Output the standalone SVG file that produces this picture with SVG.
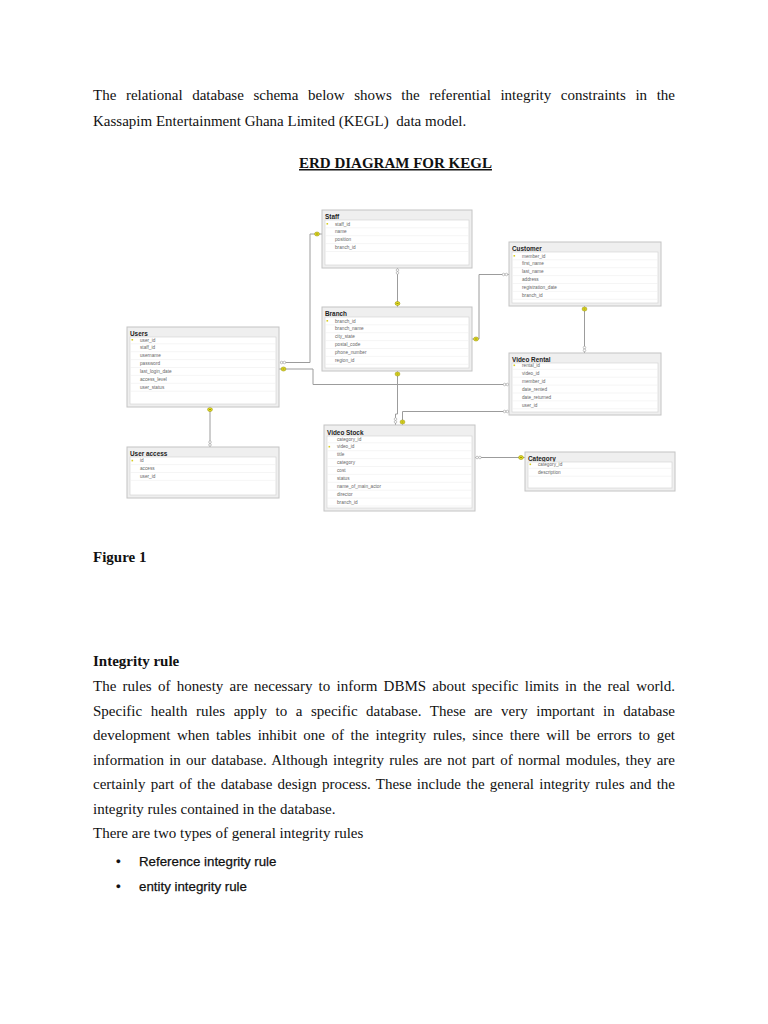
<svg xmlns="http://www.w3.org/2000/svg" xmlns:xlink="http://www.w3.org/1999/xlink" width="768" height="1024" viewBox="0 0 768 1024">
<style>
.doc{font-family:"Liberation Serif","Times New Roman",serif;font-size:15px;fill:#111}
.b{font-weight:bold}
.bul{font-family:"Liberation Sans",Arial,sans-serif;font-size:13.3px;fill:#111;stroke:#111;stroke-width:0.25}
.outer{fill:#efefef;stroke:#c4c4c4;stroke-width:1}
.inner{fill:#ffffff;stroke:#d6d6d6;stroke-width:0.7}
.sep{stroke:#efefef;stroke-width:0.6}
.th{font-family:"Liberation Sans",Arial,sans-serif;font-size:6.4px;font-weight:bold;fill:#222}
.tr{font-family:"Liberation Sans",Arial,sans-serif;font-size:4.7px;fill:#666}
.pk{fill:#d8cc20}
.conn polyline{fill:none;stroke:#9c9c9c;stroke-width:1}
</style>
<defs>
<g id="key"><ellipse cx="0" cy="0" rx="2.4" ry="2" fill="#e4de22" stroke="#9a9410" stroke-width="0.6"/><line x1="-1" y1="0" x2="1" y2="0" stroke="#6e6a00" stroke-width="0.6"/></g>
<g id="mh"><circle cx="-1.4" cy="0" r="1.3" fill="#fff" stroke="#8a8a8a" stroke-width="0.5"/><circle cx="1.4" cy="0" r="1.3" fill="#fff" stroke="#8a8a8a" stroke-width="0.5"/></g>
<g id="mv"><circle cx="0" cy="-1.4" r="1.3" fill="#fff" stroke="#8a8a8a" stroke-width="0.5"/><circle cx="0" cy="1.4" r="1.3" fill="#fff" stroke="#8a8a8a" stroke-width="0.5"/></g>
</defs>
<rect x="0" y="0" width="768" height="1024" fill="#ffffff"/>

<g id="intro">
<text class="doc" x="93" y="100" word-spacing="5.8" textLength="582" lengthAdjust="spacing">The relational database schema below shows the referential integrity constraints in the</text>
<text class="doc" x="93" y="126">Kassapim Entertainment Ghana Limited (KEGL)&#160; data model.</text>
<text class="doc b" x="395.5" y="168" text-anchor="middle" text-decoration="underline">ERD DIAGRAM FOR KEGL</text>
</g>

<g id="connectors" class="conn">
<polyline points="280,362.5 310,362.5 310,234 322,234"/>
<polyline points="397.5,268 397.5,307"/>
<polyline points="472,339 479,339 479,274.5 509,274.5"/>
<polyline points="279,369 313,369 313,384.5 509,384.5"/>
<polyline points="584.5,306 584.5,353"/>
<polyline points="397.5,371 397.5,414 395.5,414 395.5,425"/>
<polyline points="402.5,425 402.5,411.5 509,411.5"/>
<polyline points="475,457.5 525,457.5"/>
<polyline points="210,407 210,447"/>
<use xlink:href="#mh" x="283" y="362.5"/>
<use xlink:href="#key" x="317" y="234"/>
<use xlink:href="#mv" x="397.5" y="271.5"/>
<use xlink:href="#key" x="397.5" y="303.5"/>
<use xlink:href="#key" x="476" y="339"/>
<use xlink:href="#mh" x="505" y="274.5"/>
<use xlink:href="#key" x="283.5" y="369"/>
<use xlink:href="#mh" x="506" y="384.5"/>
<use xlink:href="#key" x="584.5" y="309"/>
<use xlink:href="#mv" x="584.5" y="349"/>
<use xlink:href="#key" x="397.5" y="374"/>
<use xlink:href="#mv" x="395.5" y="420.5"/>
<use xlink:href="#key" x="402.5" y="422"/>
<use xlink:href="#mh" x="506" y="411.5"/>
<use xlink:href="#mh" x="478.5" y="457.5"/>
<use xlink:href="#key" x="521" y="457.5"/>
<use xlink:href="#key" x="210" y="409.5"/>
<use xlink:href="#mv" x="210" y="443.5"/>
</g>

<g id="staff">
<rect class="outer" x="322" y="210" width="150" height="58"/>
<text class="th" x="325" y="219">Staff</text>
<rect class="inner" x="325" y="220" width="144" height="45"/>
<line class="sep" x1="325" y1="227.8" x2="469" y2="227.8"/><line class="sep" x1="325" y1="235.7" x2="469" y2="235.7"/><line class="sep" x1="325" y1="243.6" x2="469" y2="243.6"/><line class="sep" x1="325" y1="251.5" x2="469" y2="251.5"/>
<rect class="pk" x="326.5" y="223" width="1.6" height="1.6"/>
<text class="tr" x="335" y="225.5">staff_id</text>
<text class="tr" x="335" y="233.4">name</text>
<text class="tr" x="335" y="241.3">position</text>
<text class="tr" x="335" y="249.2">branch_id</text>
</g>

<g id="customer">
<rect class="outer" x="509" y="242" width="152" height="64"/>
<text class="th" x="512" y="251">Customer</text>
<rect class="inner" x="512" y="252" width="146" height="51"/>
<line class="sep" x1="512" y1="259.8" x2="658" y2="259.8"/><line class="sep" x1="512" y1="267.7" x2="658" y2="267.7"/><line class="sep" x1="512" y1="275.6" x2="658" y2="275.6"/><line class="sep" x1="512" y1="283.5" x2="658" y2="283.5"/><line class="sep" x1="512" y1="291.4" x2="658" y2="291.4"/><line class="sep" x1="512" y1="299.3" x2="658" y2="299.3"/>
<rect class="pk" x="513.5" y="255" width="1.6" height="1.6"/>
<text class="tr" x="522" y="257.5">member_id</text>
<text class="tr" x="522" y="265.4">first_name</text>
<text class="tr" x="522" y="273.3">last_name</text>
<text class="tr" x="522" y="281.2">address</text>
<text class="tr" x="522" y="289.1">registration_date</text>
<text class="tr" x="522" y="297">branch_id</text>
</g>

<g id="branch">
<rect class="outer" x="322" y="307" width="150" height="64"/>
<text class="th" x="325" y="316">Branch</text>
<rect class="inner" x="325" y="317" width="144" height="51"/>
<line class="sep" x1="325" y1="324.8" x2="469" y2="324.8"/><line class="sep" x1="325" y1="332.7" x2="469" y2="332.7"/><line class="sep" x1="325" y1="340.6" x2="469" y2="340.6"/><line class="sep" x1="325" y1="348.5" x2="469" y2="348.5"/><line class="sep" x1="325" y1="356.4" x2="469" y2="356.4"/><line class="sep" x1="325" y1="364.3" x2="469" y2="364.3"/>
<rect class="pk" x="326.5" y="320" width="1.6" height="1.6"/>
<text class="tr" x="335" y="322.5">branch_id</text>
<text class="tr" x="335" y="330.4">branch_name</text>
<text class="tr" x="335" y="338.3">city_state</text>
<text class="tr" x="335" y="346.2">postal_code</text>
<text class="tr" x="335" y="354.1">phone_number</text>
<text class="tr" x="335" y="362">region_id</text>
</g>

<g id="users">
<rect class="outer" x="127" y="327" width="152" height="80"/>
<text class="th" x="130" y="335.5">Users</text>
<rect class="inner" x="130" y="337" width="146" height="67"/>
<line class="sep" x1="130" y1="343.8" x2="276" y2="343.8"/><line class="sep" x1="130" y1="351.7" x2="276" y2="351.7"/><line class="sep" x1="130" y1="359.6" x2="276" y2="359.6"/><line class="sep" x1="130" y1="367.5" x2="276" y2="367.5"/><line class="sep" x1="130" y1="375.4" x2="276" y2="375.4"/><line class="sep" x1="130" y1="383.3" x2="276" y2="383.3"/><line class="sep" x1="130" y1="391.2" x2="276" y2="391.2"/>
<rect class="pk" x="131.5" y="339" width="1.6" height="1.6"/>
<text class="tr" x="140" y="341.5">user_id</text>
<text class="tr" x="140" y="349.4">staff_id</text>
<text class="tr" x="140" y="357.3">username</text>
<text class="tr" x="140" y="365.2">password</text>
<text class="tr" x="140" y="373.1">last_login_date</text>
<text class="tr" x="140" y="381">access_level</text>
<text class="tr" x="140" y="388.9">user_status</text>
</g>

<g id="video-rental">
<rect class="outer" x="509" y="353" width="152" height="62"/>
<text class="th" x="512" y="361.5">Video Rental</text>
<rect class="inner" x="512" y="363" width="146" height="49"/>
<line class="sep" x1="512" y1="369.3" x2="658" y2="369.3"/><line class="sep" x1="512" y1="377.2" x2="658" y2="377.2"/><line class="sep" x1="512" y1="385.1" x2="658" y2="385.1"/><line class="sep" x1="512" y1="393" x2="658" y2="393"/><line class="sep" x1="512" y1="400.9" x2="658" y2="400.9"/><line class="sep" x1="512" y1="408.8" x2="658" y2="408.8"/>
<rect class="pk" x="513.5" y="364.5" width="1.6" height="1.6"/>
<text class="tr" x="522" y="367">rental_id</text>
<text class="tr" x="522" y="374.9">video_id</text>
<text class="tr" x="522" y="382.8">member_id</text>
<text class="tr" x="522" y="390.7">date_rented</text>
<text class="tr" x="522" y="398.6">date_returned</text>
<text class="tr" x="522" y="406.5">user_id</text>
</g>

<g id="user-access">
<rect class="outer" x="127" y="447" width="152" height="51"/>
<text class="th" x="130" y="456">User access</text>
<rect class="inner" x="130" y="457" width="146" height="38"/>
<line class="sep" x1="130" y1="464.6" x2="276" y2="464.6"/><line class="sep" x1="130" y1="472.5" x2="276" y2="472.5"/><line class="sep" x1="130" y1="480.4" x2="276" y2="480.4"/>
<rect class="pk" x="131.5" y="459.8" width="1.6" height="1.6"/>
<text class="tr" x="140" y="462.3">id</text>
<text class="tr" x="140" y="470.2">access</text>
<text class="tr" x="140" y="478.1">user_id</text>
</g>

<g id="video-stock">
<rect class="outer" x="324" y="425" width="151" height="86"/>
<text class="th" x="327" y="434.5">Video Stock</text>
<rect class="inner" x="327" y="436" width="145" height="72"/>
<line class="sep" x1="327" y1="442.8" x2="472" y2="442.8"/><line class="sep" x1="327" y1="450.7" x2="472" y2="450.7"/><line class="sep" x1="327" y1="458.6" x2="472" y2="458.6"/><line class="sep" x1="327" y1="466.5" x2="472" y2="466.5"/><line class="sep" x1="327" y1="474.4" x2="472" y2="474.4"/><line class="sep" x1="327" y1="482.3" x2="472" y2="482.3"/><line class="sep" x1="327" y1="490.2" x2="472" y2="490.2"/><line class="sep" x1="327" y1="498.1" x2="472" y2="498.1"/><line class="sep" x1="327" y1="506" x2="472" y2="506"/>
<rect class="pk" x="328.5" y="445.9" width="1.6" height="1.6"/>
<text class="tr" x="337" y="440.5">category_id</text>
<text class="tr" x="337" y="448.4">video_id</text>
<text class="tr" x="337" y="456.3">title</text>
<text class="tr" x="337" y="464.2">category</text>
<text class="tr" x="337" y="472.1">cost</text>
<text class="tr" x="337" y="480">status</text>
<text class="tr" x="337" y="487.9">name_of_main_actor</text>
<text class="tr" x="337" y="495.8">director</text>
<text class="tr" x="337" y="503.7">branch_id</text>
</g>

<g id="category">
<rect class="outer" x="525" y="452" width="150" height="39"/>
<text class="th" x="528" y="460.5">Category</text>
<rect class="inner" x="528" y="462" width="144" height="26"/>
<line class="sep" x1="528" y1="468.3" x2="672" y2="468.3"/><line class="sep" x1="528" y1="476.2" x2="672" y2="476.2"/>
<rect class="pk" x="529.5" y="463.5" width="1.6" height="1.6"/>
<text class="tr" x="538" y="466">category_id</text>
<text class="tr" x="538" y="473.9">description</text>
</g>

<g id="body">
<text class="doc b" x="93" y="562">Figure 1</text>
<text class="doc b" x="93" y="666">Integrity rule</text>
<text class="doc" x="93" y="691" word-spacing="2.47" textLength="582" lengthAdjust="spacing">The rules of honesty are necessary to inform DBMS about specific limits in the real world.</text>
<text class="doc" x="93" y="716" word-spacing="4.78" textLength="582" lengthAdjust="spacing">Specific health rules apply to a specific database. These are very important in database</text>
<text class="doc" x="93" y="740" word-spacing="2.8" textLength="582" lengthAdjust="spacing">development when tables inhibit one of the integrity rules, since there will be errors to get</text>
<text class="doc" x="93" y="765" word-spacing="1.46" textLength="582" lengthAdjust="spacing">information in our database. Although integrity rules are not part of normal modules, they are</text>
<text class="doc" x="93" y="789" word-spacing="1.49" textLength="582" lengthAdjust="spacing">certainly part of the database design process. These include the general integrity rules and the</text>
<text class="doc" x="93" y="814">integrity rules contained in the database.</text>
<text class="doc" x="93" y="838">There are two types of general integrity rules</text>
<text class="bul" x="116" y="866">•</text>
<text class="bul" x="139" y="866">Reference integrity rule</text>
<text class="bul" x="116" y="891">•</text>
<text class="bul" x="139" y="891">entity integrity rule</text>
</g>
</svg>
